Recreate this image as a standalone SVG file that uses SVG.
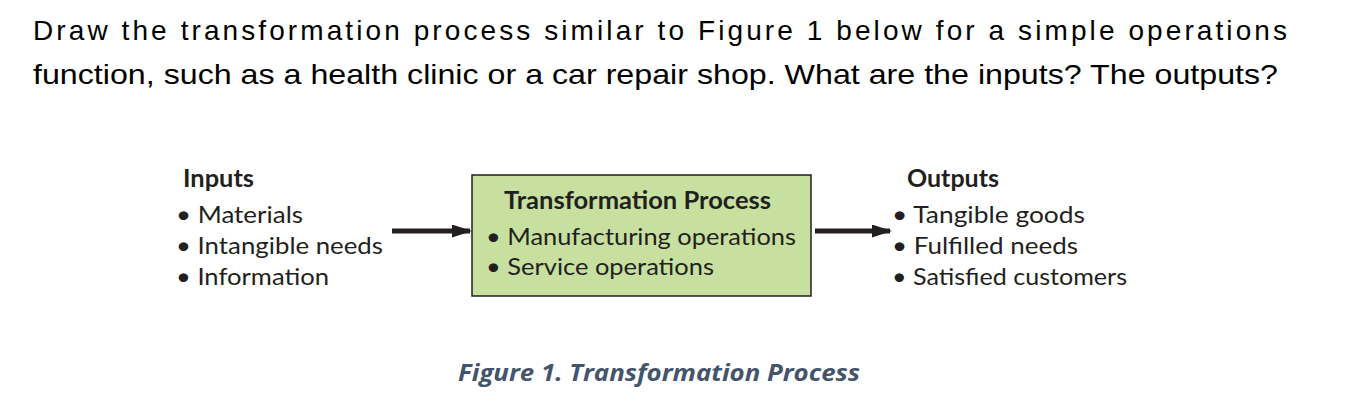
<svg xmlns="http://www.w3.org/2000/svg" width="1352" height="416" viewBox="0 0 1352 416">
<style>
.q{font-family:"Liberation Sans",Arial,sans-serif;font-size:28px;fill:#000}
.d{font-family:Lato,"Open Sans",sans-serif;font-size:24px;fill:#231f20}
.h{font-family:Lato,"Open Sans",sans-serif;font-size:24px;font-weight:bold;fill:#231f20}
.cap{font-family:"Open Sans",Lato,sans-serif;font-size:23px;font-weight:bold;font-style:italic;fill:#44546a}
.c{stroke:#231f20;stroke-width:5;fill:none}
</style>
<defs><marker id="a" viewBox="0 0 10 10" refX="9" refY="5" markerWidth="4" markerHeight="2.6" orient="auto" markerUnits="strokeWidth" preserveAspectRatio="none"><path d="M0,0L10,5L0,10z" fill="#231f20"/></marker></defs>
<rect width="1352" height="416" fill="#fff"/>
<text class="q" x="33" y="40" textLength="1254" lengthAdjust="spacing">Draw the transformation process similar to Figure 1 below for a simple operations</text>
<text class="q" x="33" y="84" textLength="1245" lengthAdjust="spacingAndGlyphs">function, such as a health clinic or a car repair shop. What are the inputs? The outputs?</text>
<g id="inputs">
<text class="h" x="183" y="187" textLength="71" lengthAdjust="spacingAndGlyphs">Inputs</text>
<text class="d" x="176" y="223" textLength="127" lengthAdjust="spacingAndGlyphs">• Materials</text>
<text class="d" x="176" y="254" textLength="207" lengthAdjust="spacingAndGlyphs">• Intangible needs</text>
<text class="d" x="176" y="285" textLength="153" lengthAdjust="spacingAndGlyphs">• Information</text>
</g>
<g id="process">
<rect x="472" y="175" width="339" height="121" fill="#c7df9f" stroke="#231f20" stroke-width="1.5"/>
<text class="h" x="504" y="209" textLength="267" lengthAdjust="spacingAndGlyphs">Transformation Process</text>
<text class="d" x="486" y="245" textLength="310" lengthAdjust="spacingAndGlyphs">• Manufacturing operations</text>
<text class="d" x="486" y="275" textLength="228" lengthAdjust="spacingAndGlyphs">• Service operations</text>
</g>
<g id="outputs">
<text class="h" x="907" y="187" textLength="92" lengthAdjust="spacingAndGlyphs">Outputs</text>
<text class="d" x="892" y="223" textLength="193" lengthAdjust="spacingAndGlyphs">• Tangible goods</text>
<text class="d" x="892" y="254" textLength="186" lengthAdjust="spacingAndGlyphs">• Fulfilled needs</text>
<text class="d" x="892" y="285" textLength="235" lengthAdjust="spacingAndGlyphs">• Satisfied customers</text>
</g>
<g id="connectors">
<path class="c" d="M392,231H470" marker-end="url(#a)"/>
<path class="c" d="M815,231H890" marker-end="url(#a)"/>
</g>
<text class="cap" x="458" y="381" textLength="402" lengthAdjust="spacingAndGlyphs">Figure 1. Transformation Process</text>
</svg>
